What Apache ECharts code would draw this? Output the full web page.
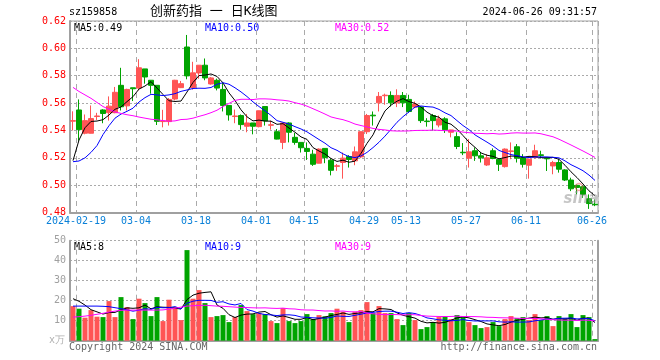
<!DOCTYPE html>
<html><head><meta charset="utf-8">
<script src="https://cdn.jsdelivr.net/npm/echarts@6/dist/echarts.min.js"></script>
<style>html,body{margin:0;padding:0;background:#fff}#c{width:660px;height:360px}</style>
</head><body><div id="c"></div>
<script>
// ---- data ----
const dates = ['2024-02-08','2024-02-19','2024-02-20','2024-02-21','2024-02-22','2024-02-23','2024-02-26','2024-02-27','2024-02-28','2024-02-29','2024-03-01',
'2024-03-04','2024-03-05','2024-03-06','2024-03-07','2024-03-08','2024-03-11','2024-03-12','2024-03-13','2024-03-14','2024-03-15',
'2024-03-18','2024-03-19','2024-03-20','2024-03-21','2024-03-22','2024-03-25','2024-03-26','2024-03-27','2024-03-28','2024-03-29',
'2024-04-01','2024-04-02','2024-04-03','2024-04-08','2024-04-09','2024-04-10','2024-04-11','2024-04-12',
'2024-04-15','2024-04-16','2024-04-17','2024-04-18','2024-04-19','2024-04-22','2024-04-23','2024-04-24','2024-04-25','2024-04-26',
'2024-04-29','2024-04-30','2024-05-06','2024-05-07','2024-05-08','2024-05-09','2024-05-10',
'2024-05-13','2024-05-14','2024-05-15','2024-05-16','2024-05-17','2024-05-20','2024-05-21','2024-05-22','2024-05-23','2024-05-24',
'2024-05-27','2024-05-28','2024-05-29','2024-05-30','2024-05-31','2024-06-03','2024-06-04','2024-06-05','2024-06-06','2024-06-07',
'2024-06-11','2024-06-12','2024-06-13','2024-06-14','2024-06-17','2024-06-18','2024-06-19','2024-06-20','2024-06-21','2024-06-24','2024-06-25','2024-06-26'];

const opens = [0.5468,0.555,0.538,0.538,0.5502,0.555,0.553,0.553,0.573,0.558,0.5712,
0.571,0.585,0.5767,0.573,0.5465,0.5465,0.563,0.5713,0.601,0.5713,
0.582,0.5877,0.574,0.5767,0.570,0.5583,0.5502,0.5509,0.5431,0.5455,
0.5428,0.5575,0.5438,0.5391,0.5313,0.5455,0.535,0.5313,
0.5269,0.5227,0.5161,0.5269,0.5183,0.5138,0.5166,0.521,0.5178,0.5207,
0.5391,0.5512,0.5602,0.5654,0.5656,0.5602,0.5656,
0.5627,0.5571,0.5571,0.5469,0.5509,0.544,0.5485,0.5387,0.5355,0.5241,
0.5198,0.5252,0.5215,0.5148,0.5252,0.519,0.5136,0.5247,0.5281,0.5202,
0.5146,0.5202,0.5222,0.5198,0.5141,0.5166,0.5112,0.5038,0.4999,0.4989,0.4901,0.4861];

const closes = [0.5472,0.5406,0.5472,0.5487,0.5506,0.5524,0.5578,0.5679,0.5573,0.570,0.5705,
0.5858,0.5791,0.573,0.5467,0.547,0.5627,0.5767,0.5742,0.5799,0.5821,
0.5877,0.5784,0.5784,0.571,0.5583,0.5514,0.5506,0.5443,0.5455,0.5431,
0.5544,0.547,0.5442,0.5337,0.5455,0.5387,0.5313,0.5274,
0.5247,0.5153,0.5264,0.5202,0.5109,0.5142,0.5198,0.5188,0.5244,0.5391,
0.5509,0.5507,0.5649,0.5658,0.5602,0.5656,0.5602,
0.5539,0.5593,0.5472,0.5465,0.5472,0.5485,0.5406,0.5404,0.5283,0.5237,
0.5244,0.5215,0.520,0.520,0.5195,0.5153,0.5264,0.5251,0.5198,0.5153,
0.519,0.5252,0.5218,0.5193,0.5166,0.5117,0.5038,0.4974,0.4984,0.4933,0.4866,0.4857];

const lows = [0.540,0.5325,0.5372,0.5379,0.5477,0.5453,0.5472,0.5526,0.5546,0.5546,0.5615,
0.5693,0.5742,0.5669,0.544,0.5423,0.5436,0.562,0.571,0.5774,0.5698,
0.5778,0.5767,0.5735,0.5693,0.5539,0.5472,0.5453,0.5406,0.5387,0.5372,
0.5423,0.5436,0.5406,0.5335,0.5264,0.5313,0.5296,0.5239,
0.5185,0.5141,0.516,0.5161,0.5072,0.5105,0.5048,0.5129,0.5146,0.5198,
0.5374,0.5436,0.5539,0.5588,0.5575,0.5571,0.5571,
0.5529,0.5563,0.5455,0.5428,0.5399,0.5423,0.5382,0.535,0.5264,0.522,
0.5129,0.5178,0.5166,0.5141,0.519,0.5104,0.5129,0.519,0.5166,0.5129,
0.5048,0.5195,0.5195,0.5104,0.508,0.5092,0.5031,0.4957,0.4933,0.4908,0.4827,0.4847];

const highs = [0.554,0.5627,0.5517,0.5583,0.5529,0.5555,0.5649,0.5718,0.5858,0.5705,0.5712,
0.5921,0.585,0.5767,0.573,0.5551,0.5637,0.577,0.5762,0.6098,0.5902,
0.5878,0.5926,0.5791,0.5779,0.5755,0.5585,0.5553,0.5517,0.5521,0.5455,
0.5545,0.5577,0.5472,0.5411,0.5457,0.546,0.5382,0.5315,
0.5313,0.5259,0.5269,0.527,0.5195,0.5155,0.5239,0.522,0.5283,0.5392,
0.5521,0.5539,0.5681,0.5669,0.5686,0.5701,0.5681,
0.5661,0.5612,0.5571,0.549,0.5521,0.5509,0.5497,0.5405,0.5387,0.5308,
0.5337,0.5276,0.5244,0.5227,0.5269,0.5192,0.5269,0.5313,0.5301,0.5227,
0.5195,0.5296,0.5252,0.520,0.5178,0.519,0.5117,0.5055,0.5005,0.4999,0.4933,0.4896];

// volume, 万
const volumes = [17.3,16.0,11.5,15.3,12.0,11.8,19.8,11.8,21.8,16.8,10.8,
21.0,18.8,12.3,21.8,9.8,20.5,16.8,10.3,45.3,21.0,
25.3,18.8,11.8,12.3,12.8,9.3,11.8,17.8,14.8,13.3,
13.8,13.3,9.8,8.8,16.3,9.8,8.8,9.8,
13.3,10.8,12.8,12.2,13.8,16.0,14.5,9.3,14.5,15.3,
19.3,13.8,17.3,13.8,13.8,10.8,7.8,
13.8,10.3,5.8,6.8,9.3,11.8,12.3,10.8,12.8,11.8,
9.3,7.8,6.3,6.8,9.3,7.3,10.8,12.3,11.3,11.8,
10.3,13.3,10.3,12.3,7.3,12.3,11.3,13.3,6.8,12.8,11.8,0.8];

const ma5Head = [0.518,0.533,0.542,0.5466];
const ma10Head = [0.5172,0.5177,0.520,0.524,0.529,0.537,0.5435,0.549,0.552];
const ma30Head = [0.5715,0.5685,0.566,0.5635,0.5605,0.5575,0.5555,0.5535,0.5525,0.5515,0.5508,0.5498,0.549,0.5482,0.5478,
0.5472,0.5468,0.547,0.548,0.5482,0.549,0.5503,0.5515,0.553,0.5548,0.5575,0.5598,0.562,0.5628];
const vma5Head = [21.0,19.7,17.8,15.5];
const vma10Head = [17.3,17.3,17.3,17.3,17.3,17.2,17.0,16.5,16.0];
const vma30Head = [11.8,12.0,12.3,12.7,13.2,13.7,14.3,14.8,15.2,15.3,15.3,15.3,15.3,15.3,15.3,
15.4,15.8,16.2,16.8,17.3,17.5,17.6,17.7,17.5,17.3,17.2,17.0,16.8,16.6];

const tickDates = ['2024-02-19','2024-03-04','2024-03-18','2024-04-01','2024-04-15','2024-04-29','2024-05-13','2024-05-27','2024-06-11','2024-06-26'];
const priceMin = 0.48, priceMax = 0.62, priceStep = 0.02;
const volMin = 0, volMax = 50, volStep = 10;

// ---- build ----
function ma(arr, n, head){
  return arr.map((v,i)=>{
    if(i < n-1) return head[i];
    let s=0; for(let k=i-n+1;k<=i;k++) s+=arr[k];
    return +(s/n).toFixed(4);
  });
}
const UP='#ff5555', DOWN='#00a400';
const MONO='"DejaVu Sans Mono", "Liberation Mono", monospace';
const candles = dates.map((d,i)=>[opens[i],closes[i],lows[i],highs[i]]);
const volData = volumes.map((v,i)=>({value:v,itemStyle:{color: closes[i]>=opens[i]?UP:DOWN}}));
const isTick = (idx,val)=>tickDates.indexOf(val)>=0 || tickDates.indexOf(dates[idx])>=0;
const gridLine = '#a0a0a0';
const dashStyle = {color:'#aaaaaa', width:1, type:[5,4]};
const dotStyle = {color:'#aaaaaa', width:1, type:[2,2]};

const chart = echarts.init(document.getElementById('c'));
chart.setOption({
  animation:false,
  grid:[
    {left:70, top:21, width:528, height:191.6, show:true, borderColor:gridLine, borderWidth:1},
    {left:70, top:240.7, width:528, height:100}
  ],
  xAxis:[
    {type:'category', gridIndex:0, data:dates, boundaryGap:true,
     axisLine:{show:true, lineStyle:{color:gridLine, width:2}}, axisTick:{show:false},
     axisLabel:{interval:(i,v)=>isTick(i,v), color:'#0a80d8', fontFamily:MONO, fontSize:10, margin:4,
       padding:[0,6,0,0],
       formatter:(v)=> v===tickDates[0] ? v : v.slice(5)},
     splitLine:{show:true, interval:(i,v)=>isTick(i,v), lineStyle:dashStyle}},
    {type:'category', gridIndex:1, data:dates, boundaryGap:true, position:'top',
     axisLine:{show:true, lineStyle:{color:gridLine, width:2}}, axisTick:{show:false}, axisLabel:{show:false},
     splitLine:{show:true, interval:(i,v)=>isTick(i,v), lineStyle:dashStyle}}
  ],
  yAxis:[
    {type:'value', gridIndex:0, min:priceMin, max:priceMax, interval:priceStep,
     axisLine:{show:true, lineStyle:{color:gridLine, width:2}}, axisTick:{show:false},
     axisLabel:{color:'#ff0000', fontFamily:MONO, fontSize:10, margin:4, formatter:v=>v.toFixed(2)},
     splitLine:{show:true, lineStyle:dotStyle}},
    {type:'value', gridIndex:1, min:volMin, max:volMax, interval:volStep,
     axisLine:{show:true, lineStyle:{color:gridLine, width:2}}, axisTick:{show:false},
     axisLabel:{color:'#a0a0a0', fontFamily:MONO, fontSize:10, margin:4, formatter:v=> v===0?'':String(v)},
     splitLine:{show:true, lineStyle:dotStyle}},
    {type:'value', gridIndex:1, position:'right', min:volMin, max:volMax, interval:volStep,
     axisLine:{show:true, lineStyle:{color:gridLine, width:2}}, axisTick:{show:false}, axisLabel:{show:false}, splitLine:{show:false}}
  ],
  series:[
    {type:'candlestick', xAxisIndex:0, yAxisIndex:0, data:candles, barWidth:5,
     itemStyle:{color:UP, color0:DOWN, borderColor:UP, borderColor0:DOWN, borderWidth:1}},
    {type:'line', xAxisIndex:0, yAxisIndex:0, data:ma(closes,5,ma5Head), symbol:'none', lineStyle:{color:'#000', width:1}},
    {type:'line', xAxisIndex:0, yAxisIndex:0, data:ma(closes,10,ma10Head), symbol:'none', lineStyle:{color:'#0000ff', width:1}},
    {type:'line', xAxisIndex:0, yAxisIndex:0, data:ma(closes,30,ma30Head), symbol:'none', lineStyle:{color:'#ff00ff', width:1}},
    {type:'bar', xAxisIndex:1, yAxisIndex:1, data:volData, barWidth:5},
    {type:'line', xAxisIndex:1, yAxisIndex:1, data:ma(volumes,5,vma5Head), symbol:'none', lineStyle:{color:'#000', width:1}},
    {type:'line', xAxisIndex:1, yAxisIndex:1, data:ma(volumes,10,vma10Head), symbol:'none', lineStyle:{color:'#0000ff', width:1}},
    {type:'line', xAxisIndex:1, yAxisIndex:1, data:ma(volumes,30,vma30Head), symbol:'none', lineStyle:{color:'#ff00ff', width:1}}
  ],
  graphic:[
    {type:'text', x:69, y:12, style:{text:'sz159858', fill:'#000', font:'10px '+MONO, verticalAlign:'middle'}},
    {type:'text', x:150, y:12, style:{text:'创新药指 一 日K线图', fill:'#000', font:'13px "DejaVu Sans Mono", "Noto Sans CJK SC"', verticalAlign:'middle'}},
    {type:'text', x:597, y:12, style:{text:'2024-06-26 09:31:57', fill:'#000', font:'10px '+MONO, align:'right', verticalAlign:'middle'}},
    {type:'text', x:74, y:28, style:{text:'MA5:0.49', fill:'#000', font:'10px '+MONO, verticalAlign:'middle'}},
    {type:'text', x:205, y:28, style:{text:'MA10:0.50', fill:'#0000ff', font:'10px '+MONO, verticalAlign:'middle'}},
    {type:'text', x:335, y:28, style:{text:'MA30:0.52', fill:'#ff00ff', font:'10px '+MONO, verticalAlign:'middle'}},
    {type:'text', x:74, y:247, style:{text:'MA5:8', fill:'#000', font:'10px '+MONO, verticalAlign:'middle'}},
    {type:'text', x:205, y:247, style:{text:'MA10:9', fill:'#0000ff', font:'10px '+MONO, verticalAlign:'middle'}},
    {type:'text', x:335, y:247, style:{text:'MA30:9', fill:'#ff00ff', font:'10px '+MONO, verticalAlign:'middle'}},
    {type:'text', x:65, y:340, style:{text:'x万', fill:'#b0b0b0', font:'10px '+MONO, align:'right', verticalAlign:'middle'}},
    {type:'text', x:69, y:347, style:{text:'Copyright 2024 SINA.COM', fill:'#666', font:'10px '+MONO, verticalAlign:'middle'}},
    {type:'text', x:597, y:347, style:{text:'http://finance.sina.com.cn', fill:'#666', font:'10px '+MONO, align:'right', verticalAlign:'middle'}},
    {type:'text', x:581, y:199, z:100, style:{text:'sina', fill:'rgba(150,150,150,0.55)', font:'italic bold 15px "DejaVu Sans"', align:'center', verticalAlign:'middle'}},
    {type:'circle', x:579, y:187, z:100, shape:{r:3.5}, style:{fill:'none', stroke:'rgba(230,80,80,0.5)', lineWidth:1.5}}
  ]
});
</script></body></html>
